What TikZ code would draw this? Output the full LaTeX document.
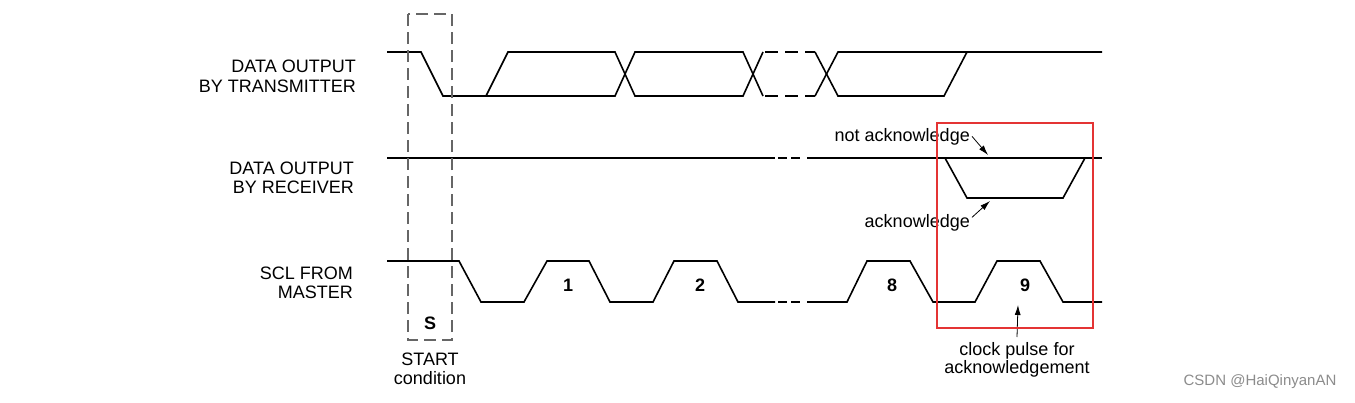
\documentclass[tikz,border=0pt]{standalone}
\usepackage{fontspec}
\setmainfont{Liberation Sans}
\usetikzlibrary{arrows.meta,calc}
\definecolor{boxred}{RGB}{228,52,52}
\tikzset{
  sig/.style={line width=1.6pt, line join=miter},
  sigdash/.style={line width=1.6pt, dash pattern=on 13pt off 7pt},
  gapdash/.style={line width=1.6pt, dash pattern=on 0pt off 3pt on 9pt off 4pt on 9pt off 4pt},
  startbox/.style={line width=1.2pt, black!60, dash pattern=on 12pt off 6pt},
  redbox/.style={line width=1.8pt, boxred},
  lbl/.style={inner sep=0pt, font=\fontsize{18}{19.5}\selectfont},
  num/.style={inner sep=0pt, font=\fontsize{18}{19.5}\selectfont\bfseries},
  note/.style={inner sep=0pt, font=\fontsize{18}{18.5}\selectfont},
  arr/.style={line width=0.8pt, -{Latex[length=10pt,width=6pt]}},
}
\begin{document}
\begin{tikzpicture}[x=1pt,y=-1pt]
\path[use as bounding box, fill=white] (0,0) rectangle (1355,402);

% signal labels
\node[lbl, anchor=east, align=right] (ltx) at (356,76.5) {DATA OUTPUT\\BY TRANSMITTER};
\node[lbl, anchor=east, align=right] (lrx) at (354,178) {DATA OUTPUT\\BY RECEIVER};
\node[lbl, anchor=east, align=right] (lscl) at (353,283) {SCL FROM\\MASTER};

% transmitter data
\draw[sig] (387,52) -- (421,52) -- (443,96) -- (615,96) -- (635,52) -- (743,52) -- (763,96);
\draw[sig] (486,96) -- (508,52) -- (615,52) -- (635,96) -- (743,96) -- (763,52);
\draw[sigdash] (765,52) -- (815,52);
\draw[sigdash] (765,96) -- (815,96);
\draw[sig] (815,52) -- (838,96) -- (944,96) -- (967,52);
\draw[sig] (815,96) -- (838,52) -- (1102,52);

% receiver data
\draw[sig] (387,158) -- (775,158);
\draw[gapdash] (775,158) -- (807,158);
\draw[sig] (807,158) -- (1102,158);
\draw[sig] (945,158) -- (967,198) -- (1063,198) -- (1085,158);

% SCL
\draw[sig] (387,261) -- (459,261) -- (481,302) -- (524,302) -- (547,261) -- (589,261) -- (610,302) -- (653,302) -- (674,261) -- (717,261) -- (738,302) -- (775,302);
\draw[gapdash] (775,302) -- (807,302);
\draw[sig] (807,302) -- (847,302) -- (867,261) -- (910,261) -- (933,302) -- (975,302) -- (997,261) -- (1040,261) -- (1063,302) -- (1102,302);

% clock numbers
\node[num] (n1) at (568,285) {1};
\node[num] (n2) at (700,285) {2};
\node[num] (n8) at (892,285) {8};
\node[num] (n9) at (1025,285) {9};

% start condition
\draw[startbox] (408,14) rectangle (452,340);
\node[num] (s) at (430,323) {S};
\node[note, align=center, anchor=north] (start) at (430,353) {START\\condition};

% acknowledge annotations
\node[note, anchor=base east] (nack) at (970,141) {not acknowledge};
\coordinate (nackTip) at (988,155);
\draw[arr] ([xshift=2pt]nack.east) -- (nackTip);
\node[note, anchor=base east] (ack) at (970,227) {acknowledge};
\coordinate (ackTip) at (990,201);
\draw[arr] ([shift={(2pt,5pt)}]ack.east) -- (ackTip);

\node[note, align=center, anchor=north] (clk) at (1017,342) {clock pulse for\\acknowledgement};
\coordinate (clkTip) at (1018,305);
\draw[arr] ([yshift=5pt]clk.north) -- (clkTip);

% red highlight
\draw[redbox] (937,123) rectangle (1093,328);

% watermark
\node[inner sep=0pt, font=\fontsize{15}{15}\selectfont, text=black!45] (wm) at (1260,382) {CSDN @HaiQinyanAN};
\end{tikzpicture}
\end{document}
